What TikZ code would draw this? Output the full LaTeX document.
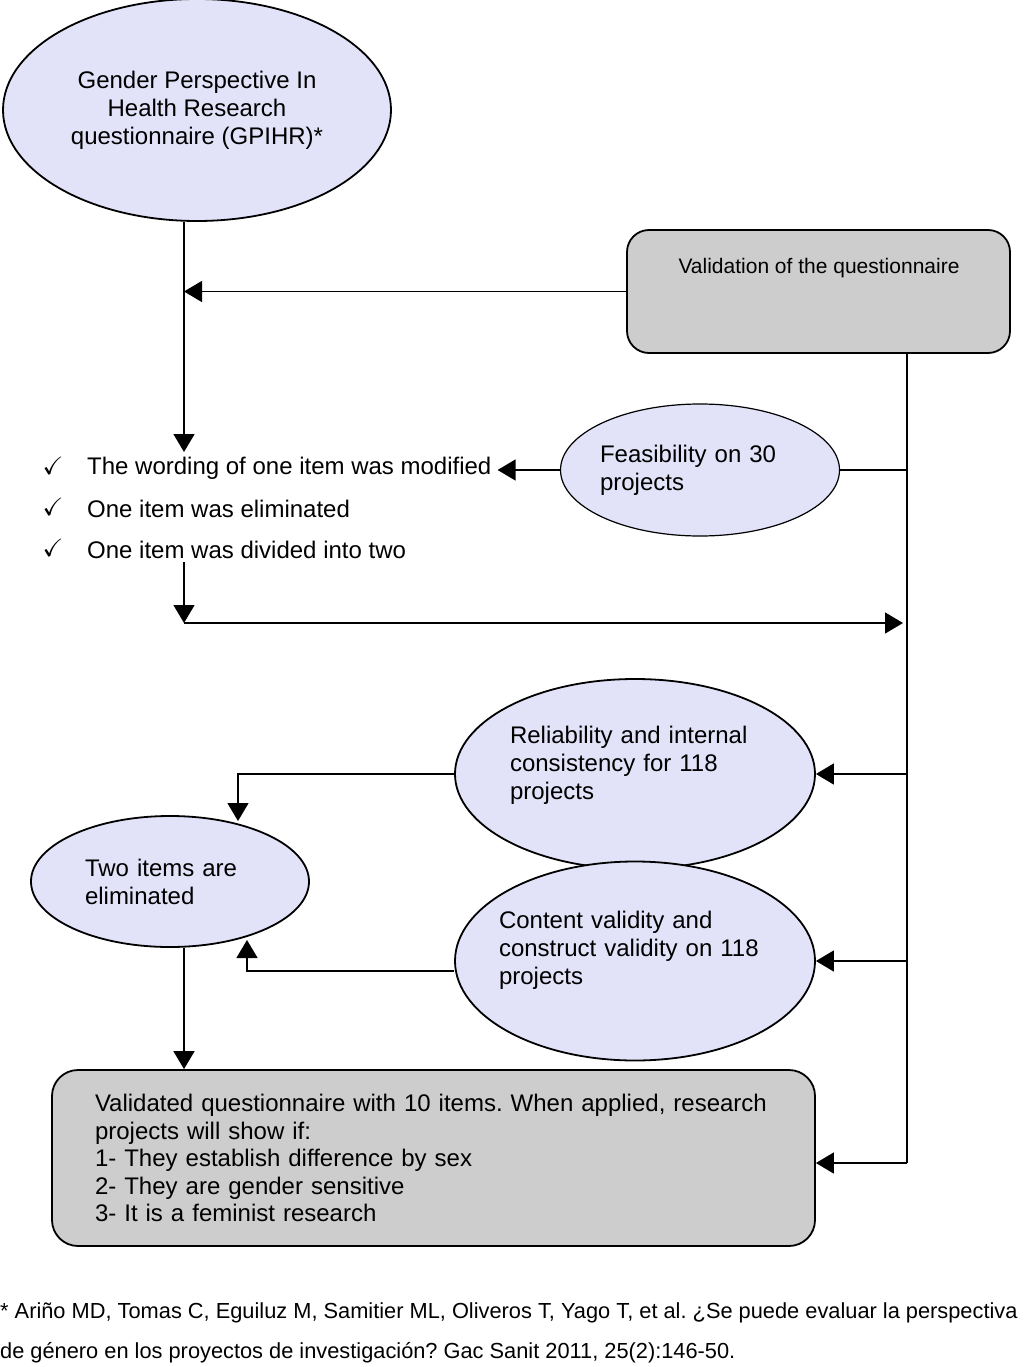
\documentclass[tikz,border=0pt]{standalone}
\usepackage{fontspec}
\setmainfont{Liberation Sans}
\usepackage{amssymb}
\usetikzlibrary{shapes,arrows.meta}
\definecolor{lilac}{RGB}{226,226,248}
\definecolor{boxgray}{RGB}{205,205,205}
\newcommand{\tickmark}{{\fontsize{25}{25}\selectfont$\checkmark$}}
\frenchspacing

\begin{document}
\begin{tikzpicture}[x=1pt,y=-1pt]
	\tikzstyle{every node}+=[inner sep=0pt, font=\fontsize{24}{28}\selectfont]
	\tikzstyle{oval}=[ellipse, draw=black, line width=1.8pt, fill=lilac, align=left, inner xsep=-40pt]
	\tikzstyle{graybox}=[rectangle, rounded corners=22pt, draw=black, line width=1.8pt, fill=boxgray]
	\tikzstyle{wire}=[line width=1.5pt]
	\tikzstyle{arr}=[-{Triangle[length=18pt,width=21pt]}]
	\useasboundingbox (0,0) rectangle (1024,1367);
	% shapes
	\node[oval, align=center, minimum width=388pt, minimum height=222pt] (gpihr) at (197,110) {Gender Perspective In\\Health Research\\questionnaire (GPIHR)*};
	\node[graybox, minimum width=383pt, minimum height=123pt] (valid) at (818.5,291.5) {};
	\node[font=\fontsize{21}{25}\selectfont] (validtxt) at (819,268) {Validation of the questionnaire};
	\node[oval, line width=1.2pt, text width=200pt, minimum width=279pt, minimum height=132pt] (feas) at (700,470) {Feasibility on 30\\projects};
	\node[anchor=west] (item1) at (87,468) {The wording of one item was modified};
	\node[anchor=west] (item2) at (87,509) {One item was eliminated};
	\node[anchor=west] (item3) at (87,550) {One item was divided into two};
	\node (tick1) at (53,466) {\tickmark};
	\node (tick2) at (53,507) {\tickmark};
	\node (tick3) at (53,548) {\tickmark};
	\node[oval, text width=250pt, text depth=79pt, minimum width=360pt, minimum height=190pt] (rel) at (635,774) {Reliability and internal\\consistency for 118\\projects};
	\node[oval, text width=272pt, text depth=83pt, minimum width=360pt, minimum height=199pt] (con) at (635,961) {Content validity and\\construct validity on 118\\projects};
	\node[oval, text width=170pt, minimum width=278pt, minimum height=131pt] (two) at (170,881.5) {Two items are\\eliminated};
	\node[graybox, rounded corners=26pt, text width=677pt, align=left, minimum width=763pt, minimum height=176pt, font=\fontsize{24}{27.5}\selectfont] (done) at (433.5,1158) {Validated questionnaire with 10 items. When applied, research\\projects will show if:\\1- They establish difference by sex\\2- They are gender sensitive\\3- It is a feminist research};
	% footnote
	\node[anchor=west, font=\fontsize{21.8}{26}\selectfont] (ref1) at (0,1313) {* Ariño MD, Tomas C, Eguiluz M, Samitier ML, Oliveros T, Yago T, et al. ¿Se puede evaluar la perspectiva};
	\node[anchor=west, font=\fontsize{21.8}{26}\selectfont] (ref2) at (0,1353) {de género en los proyectos de investigación? Gac Sanit 2011, 25(2):146-50.};
	% connectors
	\coordinate (col) at (184,452);
	\coordinate (listout) at (184,562);
	\coordinate (listin) at (184,623);
	\coordinate (trunk) at (907,1163);
	\coordinate (twoin) at (238,821);
	\coordinate (twoup) at (247,940);
	\draw[wire,arr] (gpihr.south -| col) -- (col);
	\draw[wire,arr] (valid.west) -- (valid.west -| col);
	\draw[wire] (valid.south -| trunk) -- (trunk);
	\draw[wire] (feas.east) -- (feas.east -| trunk);
	\draw[wire,arr,shorten >=6pt] (feas.west) -- (feas.west -| item1.east);
	\draw[wire,arr] (listout) -- (listin);
	\draw[wire,arr,shorten >=4pt] (listin) -- (listin -| trunk);
	\draw[wire,arr] (trunk |- rel.east) -- (rel.east);
	\draw[wire,arr] (trunk |- con.east) -- (con.east);
	\draw[wire,arr] (rel.west) -| (twoin);
	\draw[wire,arr] ([yshift=-10pt]con.west) -| (twoup);
	\draw[wire,arr] (two.south -| col) -- (done.north -| col);
	\draw[wire,arr] (trunk) -- (trunk -| done.east);
\end{tikzpicture}
\end{document}
